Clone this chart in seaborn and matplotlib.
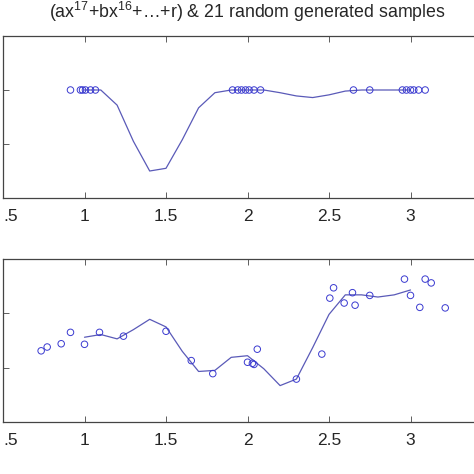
import numpy as np
import pandas as pd
import matplotlib
matplotlib.use("Agg")
import matplotlib.pyplot as plt
import seaborn as sns

# samples and fitted curve
top_x = [0.914, 0.975, 0.988, 1.006, 1.037, 1.067,
         1.908, 1.94, 1.963, 1.988, 2.01, 2.04, 2.08,
         2.65, 2.75,
         2.95, 2.975, 3.0, 3.02, 3.05, 3.09]
top_y = [1.0] * 21

fit_x = [1.0, 1.1, 1.2, 1.3, 1.4, 1.5, 1.6, 1.7, 1.8, 1.9, 2.0,
         2.1, 2.2, 2.3, 2.4, 2.5, 2.6, 2.7, 2.8, 2.9, 3.0]
top_fit = [1.0, 1.0, 0.72, 0.05, -0.5, -0.45, 0.08, 0.67, 0.95, 1.0, 1.0,
           1.0, 0.95, 0.89, 0.86, 0.91, 0.98, 1.0, 1.0, 1.0, 1.0]

bot_x = [0.734, 0.771, 0.857, 0.914, 1.0, 1.092, 1.239, 1.50, 1.655, 1.787,
         2.0, 2.03, 2.04, 2.06, 2.30, 2.456, 2.505, 2.528, 2.593, 2.644,
         2.66, 2.75, 2.963, 3.0, 3.057, 3.09, 3.127, 3.213]
bot_y = [0.31, 0.38, 0.44, 0.65, 0.43, 0.65, 0.58, 0.67, 0.13, -0.11,
         0.10, 0.08, 0.06, 0.34, -0.21, 0.25, 1.28, 1.47, 1.19, 1.38,
         1.15, 1.33, 1.63, 1.33, 1.11, 1.63, 1.56, 1.10]
bot_fit = [0.56, 0.61, 0.53, 0.70, 0.89, 0.75, 0.30, -0.07, -0.05, 0.19, 0.22,
           -0.02, -0.33, -0.21, 0.37, 0.98, 1.34, 1.34, 1.30, 1.34, 1.43]

# the picture is cropped: only ".5" of the first label shows, the last one not at all
x_ticks = [0.5, 1, 1.5, 2, 2.5, 3, 3.5]
x_labels = [".5", "1", "1.5", "2", "2.5", "3", ""]

sns.set_style("ticks")
plt.rcParams['font.family'] = ['Liberation Sans', 'DejaVu Sans']
plt.rcParams['mathtext.fontset'] = 'custom'
plt.rcParams['mathtext.rm'] = 'Liberation Sans'
plt.rcParams['mathtext.it'] = 'Liberation Sans'

fig = plt.figure(figsize=(4.74, 4.74), dpi=100)
ax1 = fig.add_axes([3 / 474, 276 / 474, 489 / 474, 162 / 474])
ax2 = fig.add_axes([3 / 474, 52 / 474, 489 / 474, 163 / 474])

pt_col = "#3a3ad0"
ln_col = "#5a5ab8"

for ax, xs, ys, fit in [(ax1, top_x, top_y, top_fit), (ax2, bot_x, bot_y, bot_fit)]:
    sns.lineplot(x=fit_x, y=fit, ax=ax, color=ln_col, lw=0.9, sort=False)
    sns.scatterplot(x=xs, y=ys, ax=ax, marker="o", s=22, facecolor="none",
                    edgecolor=pt_col, linewidth=0.7, zorder=3)
    ax.set_xlim(0.5, 3.5)
    ax.set_ylim(-1, 2)
    ax.set_xticks(x_ticks)
    ax.set_xticklabels(x_labels, fontsize=12.5)
    ax.get_xticklabels()[0].set_horizontalalignment("left")
    ax.set_yticks([-1, 0, 1, 2])
    ax.set_yticklabels([])
    ax.tick_params(direction="in", length=4, width=0.6, color="#444444",
                   top=True, right=True, pad=8)
    for s in ax.spines.values():
        s.set_visible(True)
        s.set_color("#444444")
        s.set_linewidth(0.9)

ax1.set_title(r"(ax$^{17}$+bx$^{16}$+…+r) & 21 random generated samples",
              fontsize=12.8, pad=13)

plt.savefig("out.png", dpi=100)
